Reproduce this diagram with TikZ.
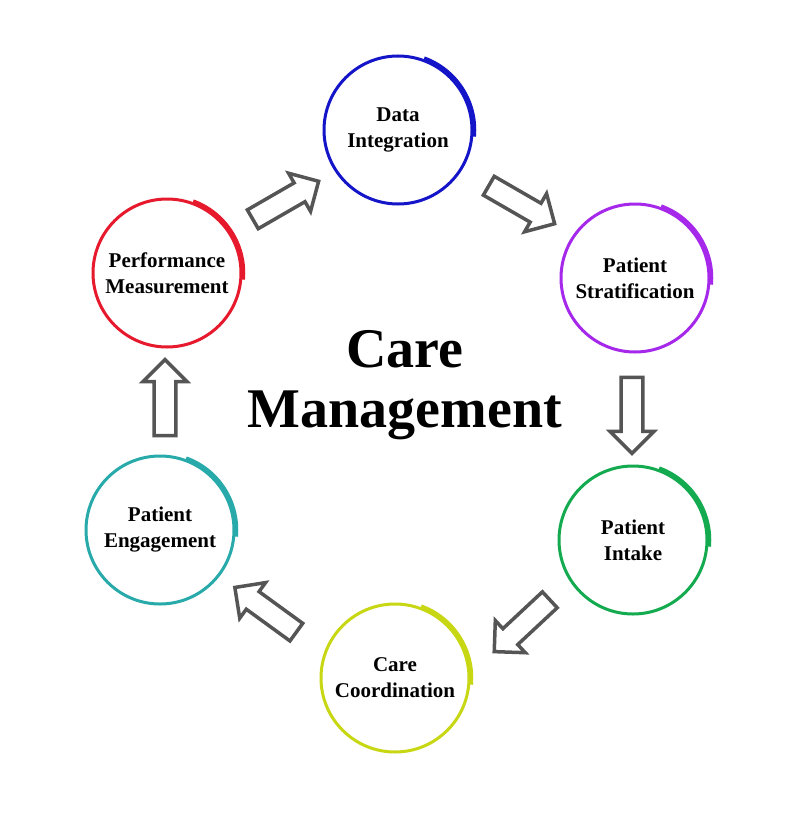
\documentclass[tikz,border=0pt]{standalone}
\usepackage{fontspec}
\setmainfont{Liberation Serif}
\usetikzlibrary{shapes.arrows}
\definecolor{cblue}{RGB}{20,20,200}
\definecolor{cpurple}{RGB}{165,40,235}
\definecolor{cgreen}{RGB}{20,170,80}
\definecolor{cyel}{RGB}{200,215,20}
\definecolor{cteal}{RGB}{40,170,170}
\definecolor{cred}{RGB}{230,25,45}
\definecolor{agray}{RGB}{85,85,85}
\tikzset{
  ring/.style={circle,draw=#1,line width=3pt,minimum size=148pt,inner sep=0pt,font=\bfseries\fontsize{21}{26}\selectfont,align=center,text=black},
  blockarrow/.style={single arrow,draw=agray,line width=3.5pt,minimum height=76pt,minimum width=44pt,single arrow head extend=11pt,inner sep=9pt,fill=white}
}
\newcommand{\ringextra}[2]{\draw[#2,line width=4.5pt] (#1) ++(70:76pt) arc[start angle=70,end angle=-5,radius=76pt];}
\begin{document}
\begin{tikzpicture}[x=1pt,y=-1pt]
\useasboundingbox (0,0) rectangle (800,816);
\fill[white] (0,0) rectangle (800,816);
\node[ring=cblue] (di) at (398,130) {Data\\Integration};
\node[ring=cpurple] (ps) at (635,278) {Patient\\Stratification};
\node[ring=cgreen] (pi) at (633,540) {Patient\\Intake};
\node[ring=cyel] (cc) at (395,678) {Care\\Coordination};
\node[ring=cteal] (pe) at (160,530) {Patient\\Engagement};
\node[ring=cred] (pm) at (167,273) {Performance\\Measurement};
\ringextra{di}{cblue}\ringextra{ps}{cpurple}\ringextra{pi}{cgreen}
\ringextra{cc}{cyel}\ringextra{pe}{cteal}\ringextra{pm}{cred}
\node[font=\bfseries\fontsize{56}{60}\selectfont,align=center] (title) at (405,385) {Care\\Management};
\node[blockarrow,rotate=30] (a1) at (281,203) {};
\node[blockarrow,rotate=-30] (a2) at (517,202) {};
\node[blockarrow,rotate=-90] (a3) at (632,410) {};
\node[blockarrow,rotate=-137] (a4) at (526,622) {};
\node[blockarrow,rotate=144] (a5) at (270,613) {};
\node[blockarrow,rotate=90] (a6) at (165,403) {};
\end{tikzpicture}
\end{document}
